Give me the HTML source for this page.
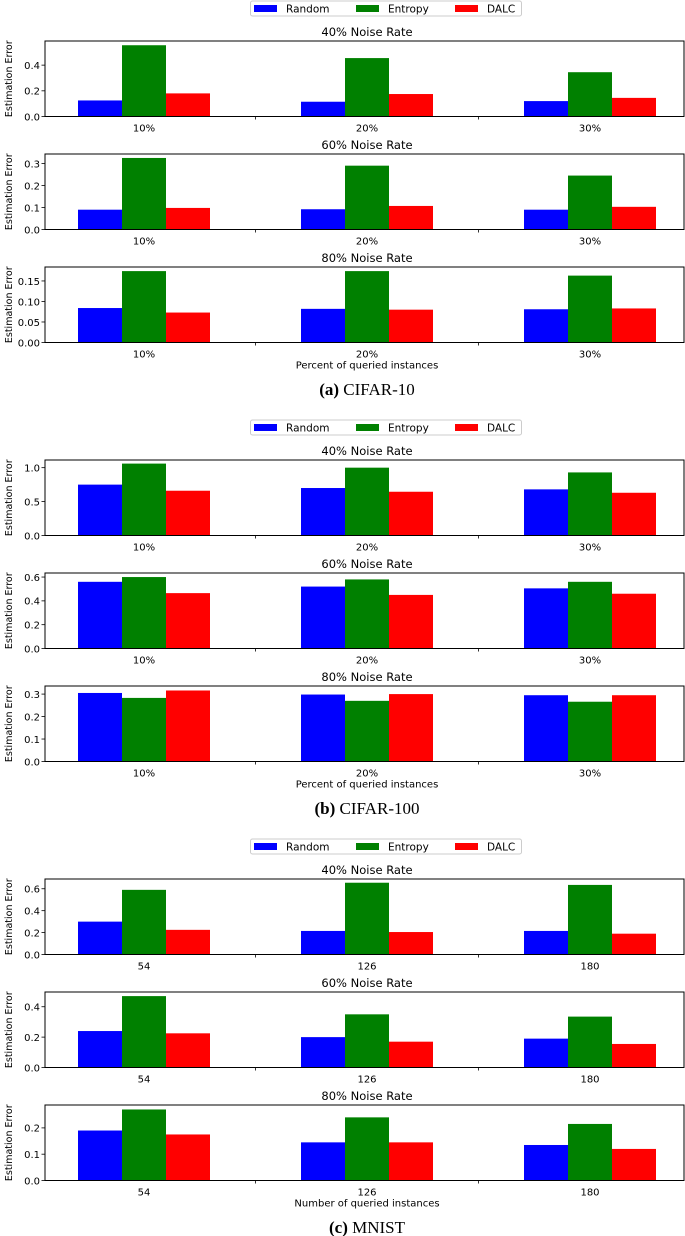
<!DOCTYPE html>
<html><head><meta charset="utf-8"><style>
body{margin:0;background:#fff;}
svg{display:block;font-family:"DejaVu Sans","Liberation Sans",sans-serif;}
</style></head><body>
<svg id="fig" width="685" height="1236" viewBox="0 0 685 1236" xmlns="http://www.w3.org/2000/svg"></svg>
<script>
const seriesNames = ["Random","Entropy","DALC"];
const seriesColors = ["#0000ff","#008000","#ff0000"];
const noiseTitles = ["40% Noise Rate","60% Noise Rate","80% Noise Rate"];
const catsPct = ["10%","20%","30%"];
const catsNum = ["54","126","180"];
// Panel a: CIFAR-10
const a40Random = [0.125,0.115,0.12], a40Entropy = [0.555,0.455,0.345], a40Dalc = [0.18,0.175,0.145];
const a60Random = [0.09,0.092,0.09], a60Entropy = [0.325,0.29,0.245], a60Dalc = [0.098,0.107,0.103];
const a80Random = [0.084,0.082,0.081], a80Entropy = [0.174,0.174,0.163], a80Dalc = [0.073,0.080,0.083];
// Panel b: CIFAR-100
const b40Random = [0.75,0.70,0.68], b40Entropy = [1.06,1.0,0.93], b40Dalc = [0.66,0.645,0.63];
const b60Random = [0.56,0.52,0.505], b60Entropy = [0.60,0.58,0.56], b60Dalc = [0.465,0.45,0.46];
const b80Random = [0.305,0.298,0.295], b80Entropy = [0.283,0.27,0.266], b80Dalc = [0.316,0.30,0.295];
// Panel c: MNIST
const c40Random = [0.30,0.215,0.215], c40Entropy = [0.59,0.655,0.635], c40Dalc = [0.225,0.205,0.19];
const c60Random = [0.24,0.20,0.19], c60Entropy = [0.47,0.35,0.335], c60Dalc = [0.225,0.17,0.155];
const c80Random = [0.19,0.145,0.135], c80Entropy = [0.27,0.24,0.215], c80Dalc = [0.175,0.145,0.12];
// y-axis limits and ticks
const a40Max = 0.588, a60Max = 0.343, a80Max = 0.184;
const b40Max = 1.113, b60Max = 0.634, b80Max = 0.336;
const c40Max = 0.689, c60Max = 0.497, c80Max = 0.287;
const a40Ticks = ["0.0","0.2","0.4"], a60Ticks = ["0.0","0.1","0.2","0.3"], a80Ticks = ["0.00","0.05","0.10","0.15"];
const b40Ticks = ["0.0","0.5","1.0"], b60Ticks = ["0.0","0.2","0.4","0.6"], b80Ticks = ["0.0","0.1","0.2","0.3"];
const c40Ticks = ["0.0","0.2","0.4","0.6"], c60Ticks = ["0.0","0.2","0.4"], c80Ticks = ["0.0","0.1","0.2"];

const panels = [
 {off:0, tag:"a", name:"CIFAR-10", cats:catsPct, xlabel:"Percent of queried instances",
  subs:[[a40Random,a40Entropy,a40Dalc,a40Max,a40Ticks],[a60Random,a60Entropy,a60Dalc,a60Max,a60Ticks],[a80Random,a80Entropy,a80Dalc,a80Max,a80Ticks]]},
 {off:419, tag:"b", name:"CIFAR-100", cats:catsPct, xlabel:"Percent of queried instances",
  subs:[[b40Random,b40Entropy,b40Dalc,b40Max,b40Ticks],[b60Random,b60Entropy,b60Dalc,b60Max,b60Ticks],[b80Random,b80Entropy,b80Dalc,b80Max,b80Ticks]]},
 {off:838, tag:"c", name:"MNIST", cats:catsNum, xlabel:"Number of queried instances",
  subs:[[c40Random,c40Entropy,c40Dalc,c40Max,c40Ticks],[c60Random,c60Entropy,c60Dalc,c60Max,c60Ticks],[c80Random,c80Entropy,c80Dalc,c80Max,c80Ticks]]}
];
const NS="http://www.w3.org/2000/svg";
const svg=document.getElementById("fig");
function mk(tag,attrs,parent,text){const e=document.createElementNS(NS,tag);for(const k in attrs)e.setAttribute(k,attrs[k]);if(text!==undefined)e.textContent=text;(parent||svg).appendChild(e);return e;}
const L=45,R=684,groupW=223,barW=44,firstC=144;
function xC(i){return firstC+i*groupW;}
panels.forEach(p=>{
  const g=mk("g",{});
  
  
  const lg=mk("g",{},g);
  
  
  mk("rect",{x:250.5,y:p.off+1,width:271,height:15,fill:"#fff",stroke:"#ccc","stroke-width":1,rx:2},lg);
  const lx=[254,356,455];
  seriesNames.forEach((s,k)=>{
    const en=mk("g",{},lg);
    
    
    mk("rect",{x:lx[k],y:p.off+5,width:23,height:7,fill:seriesColors[k]},en);
    mk("text",{x:lx[k]+32,y:p.off+12.5,"font-size":10.5,fill:"#000"},en,s);
  });
  p.subs.forEach((sub,j)=>{
    const top=p.off+41+j*113, bot=top+75.5;
    const ymax=sub[3], ticks=sub[4];
    const y=v=>bot-(v/ymax)*(bot-top);
    const ax=mk("g",{},g);
    
    
    mk("text",{x:367,y:top-5,"font-size":11.5,"text-anchor":"middle"},ax,noiseTitles[j]);
    for(let k=0;k<3;k++){
      const vals=sub[k];
      vals.forEach((v,i)=>{
        const r=mk("rect",{x:xC(i)-66+k*barW,y:y(v),width:barW,height:bot-y(v),fill:seriesColors[k]},ax);
        
        
      });
    }
    mk("rect",{x:L,y:top,width:R-L,height:bot-top,fill:"none",stroke:"#000","stroke-width":1},ax);
    ticks.forEach(t=>{
      const yy=y(parseFloat(t));
      mk("line",{x1:L-3.5,x2:L,y1:yy,y2:yy,stroke:"#000","stroke-width":0.8},ax);
      mk("text",{x:L-5,y:yy+3.8,"font-size":10,"text-anchor":"end"},ax,t);
    });
    p.cats.forEach((c,i)=>{
      mk("text",{x:xC(i),y:bot+15,"font-size":10,"text-anchor":"middle"},ax,c);
      if(i<2){const mx=(xC(i)+xC(i+1))/2;mk("line",{x1:mx,x2:mx,y1:bot,y2:bot+3,stroke:"#000","stroke-width":0.8},ax);}
    });
    mk("text",{x:0,y:0,"font-size":9.5,"text-anchor":"middle",transform:`translate(12,${(top+bot)/2}) rotate(-90)`},ax,"Estimation Error");
  });
  mk("text",{x:367,y:p.off+368.5,"font-size":10,"text-anchor":"middle"},g,p.xlabel);
  const cap=mk("text",{x:367,y:p.off+395,"font-size":17,"text-anchor":"middle","font-family":"'Liberation Serif',serif"},g);
  
  
  mk("tspan",{"font-weight":"bold"},cap,"("+p.tag+")");
  mk("tspan",{},cap," "+p.name);
});
</script>
</body></html>
